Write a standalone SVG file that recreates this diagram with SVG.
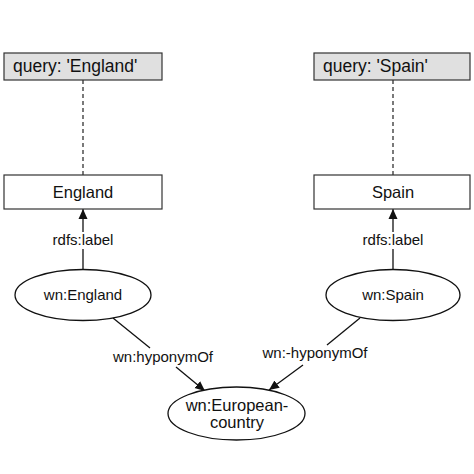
<svg xmlns="http://www.w3.org/2000/svg" width="474" height="474" viewBox="0 0 474 474">
<defs>
<style>
text{font-family:"Liberation Sans",Arial,sans-serif;fill:#111}
.box{fill:#fff;stroke:#333;stroke-width:1.2}
.q{fill:#e0e0e0;stroke:#333;stroke-width:1.2}
.ell{fill:#fff;stroke:#111;stroke-width:1.3}
.ln{stroke:#111;stroke-width:1.3;fill:none}
.dash{stroke:#333;stroke-width:1.3;stroke-dasharray:4,3;fill:none}
.t17{font-size:17.5px}
.t16{font-size:16.5px}
.t15{font-size:15px}
</style>
<marker id="ah" viewBox="0 0 10 10" refX="10" refY="5" markerWidth="10" markerHeight="10" markerUnits="userSpaceOnUse" orient="auto">
<path d="M0,0.5 L10,5 L0,9.5 z" fill="#111"/>
</marker>
</defs>
<rect width="474" height="474" fill="#fff"/>
<g id="connectors">
<line class="dash" x1="83" y1="80" x2="83" y2="175"/>
<line class="dash" x1="393" y1="80" x2="393" y2="175"/>
<line class="ln" x1="83" y1="269" x2="83" y2="249"/>
<line class="ln" x1="83" y1="232" x2="83" y2="209" marker-end="url(#ah)"/>
<text class="t15" x="83" y="245" text-anchor="middle">rdfs:label</text>
<line class="ln" x1="393" y1="269" x2="393" y2="249"/>
<line class="ln" x1="393" y1="232" x2="393" y2="209" marker-end="url(#ah)"/>
<text class="t15" x="393" y="245" text-anchor="middle">rdfs:label</text>
<line class="ln" x1="113" y1="318" x2="150" y2="348"/>
<line class="ln" x1="176" y1="367" x2="205" y2="391" marker-end="url(#ah)"/>
<text class="t15" x="163" y="362" text-anchor="middle">wn:hyponymOf</text>
<line class="ln" x1="360" y1="318" x2="327" y2="345"/>
<line class="ln" x1="303" y1="365" x2="269" y2="390" marker-end="url(#ah)"/>
<text class="t15" x="315" y="358" text-anchor="middle">wn:-hyponymOf</text>
</g>
<g id="query-england">
<rect class="q" x="4" y="53" width="158" height="27"/>
<text class="t17" x="13" y="72">query: 'England'</text>
</g>
<g id="query-spain">
<rect class="q" x="314" y="53" width="156" height="27"/>
<text class="t17" x="323" y="72">query: 'Spain'</text>
</g>
<g id="england">
<rect class="box" x="4" y="175" width="158" height="34"/>
<text class="t16" x="83" y="198" text-anchor="middle">England</text>
</g>
<g id="spain">
<rect class="box" x="314" y="175" width="156" height="34"/>
<text class="t16" x="393" y="198" text-anchor="middle">Spain</text>
</g>
<g id="wn-england">
<ellipse class="ell" cx="83" cy="295" rx="68" ry="25.5"/>
<text class="t15" x="83" y="300" text-anchor="middle">wn:England</text>
</g>
<g id="wn-spain">
<ellipse class="ell" cx="393" cy="295" rx="67" ry="25.5"/>
<text class="t15" x="393" y="300" text-anchor="middle">wn:Spain</text>
</g>
<g id="wn-european-country">
<ellipse class="ell" cx="236.5" cy="413.5" rx="68.5" ry="26.5"/>
<text class="t16" x="237" y="411" text-anchor="middle">wn:European-</text>
<text class="t16" x="237" y="428" text-anchor="middle">country</text>
</g>
</svg>
